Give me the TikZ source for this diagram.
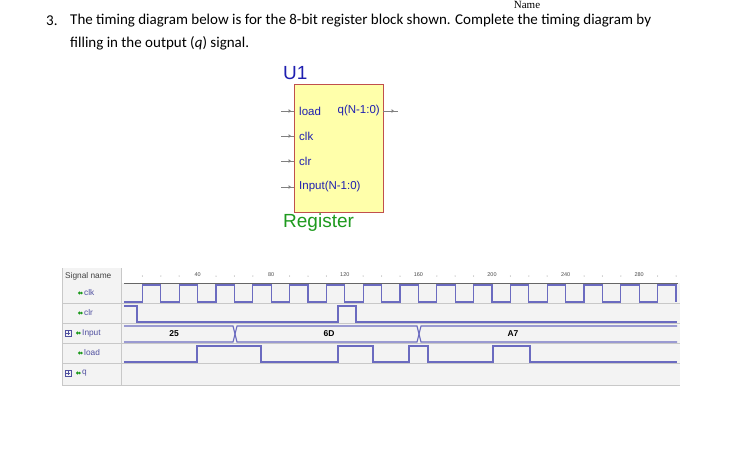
\documentclass[tikz,border=0pt]{standalone}
\usepackage{fontspec}
\usetikzlibrary{arrows.meta}
\setmainfont{Carlito}
\newfontfamily\arialf{Liberation Sans}
\newfontfamily\timesf{Liberation Serif}
\definecolor{wave}{HTML}{6B6BC0}
\definecolor{pblue}{HTML}{1F1FB0}
\definecolor{rgreen}{HTML}{1E9A1E}
\definecolor{boxfill}{HTML}{FFFFAA}
\definecolor{boxedge}{HTML}{C0504D}
\definecolor{panel}{HTML}{F3F3F3}
\definecolor{sep}{HTML}{C8C8C8}
\definecolor{lblue}{HTML}{5050A0}
\begin{document}
\begin{tikzpicture}[x=1pt,y=-1pt,
  wv/.style={draw=wave,line width=1.1pt},
  pin/.style={draw=gray,line width=0.7pt},
  pintxt/.style={font=\arialf\fontsize{11.5}{12}\selectfont,text=pblue,anchor=west,inner sep=0pt},
  sname/.style={font=\arialf\fontsize{8.3}{9}\selectfont,text=lblue,anchor=west,inner sep=0pt},
  tick/.style={font=\arialf\fontsize{5.5}{5.5}\selectfont,text=black!70,inner sep=0pt},
  val/.style={font=\arialf\bfseries\fontsize{8.5}{8.5}\selectfont,inner sep=0pt}]
\useasboundingbox (0,0) rectangle (736,472);
\fill[white] (0,0) rectangle (736,472);
% header
\node[font=\timesf\fontsize{11}{11}\selectfont,inner sep=0pt] (nm) at (527,5) {Name};
\node[anchor=west,inner sep=0pt,font=\fontsize{15}{15}\selectfont] (n3) at (46,21) {3.};
\node[anchor=west,inner sep=0pt,font=\fontsize{15}{15}\selectfont] (l1) at (70,21) {The timing diagram below is for the 8-bit register block shown. Complete the timing diagram by};
\node[anchor=west,inner sep=0pt,font=\fontsize{15}{15}\selectfont] (l2) at (70,43) {filling in the output (\textit{q}) signal.};
% register block
\node[anchor=west,inner sep=0pt,font=\arialf\fontsize{19}{19}\selectfont,text=pblue] (u1) at (283,73) {U1};
\node[draw=boxedge,fill=boxfill,line width=0.8pt,minimum width=89pt,minimum height=128pt,anchor=north west,inner sep=0pt] (blk) at (294,84) {};
\node[anchor=west,inner sep=0pt,font=\arialf\fontsize{19}{19}\selectfont,text=rgreen] (reg) at (283,223) {Register};
\foreach \n/\t/\y in {pl/load/111,pc/clk/136,pr/clr/161,pi/Input(N-1:0)/187}{
  \coordinate (\n a) at (281,\y);
  \coordinate (\n b) at (294,\y);
  \draw[pin] (\n a) -- (\n b);
  \fill[gray] (288.5,\y-2) -- (288.5,\y+2) -- (291,\y) -- cycle;
  \node[pintxt] (\n t) at (299,\y) {\t};
}
\node[pintxt,anchor=east] (pqt) at (380,111) {q(N-1:0)};
\coordinate (pqa) at (383,111); \coordinate (pqb) at (398,111);
\draw[pin] (pqa) -- (pqb);
\fill[gray] (391.5,109) -- (391.5,113) -- (394,111) -- cycle;
% timing panel
\fill[panel] (62,268) rectangle (680,386);
\fill[white] (122,268) rectangle (680,283);
\draw[sep] (62,268) -- (62,386);
\draw[sep] (121,268) -- (121,386);
\foreach \y in {303,323,343,363,385}{\draw[sep,line width=0.8pt] (62,\y) -- (680,\y);}
\draw[black!60,line width=0.8pt] (124,283.5) -- (678,283.5);
\node[sname,text=black!75] (sn) at (65,276) {Signal name};
\foreach \n/\t/\y/\x in {sc/clk/293/84,sr/clr/313/84,si/Input/333/82,sl/load/353/84,sq/q/373/82}{
  \node[sname] (\n) at (\x,\y) {\t};
  \fill[rgreen] (\x-4.5,\y) circle (1.7pt);
  \fill[rgreen] (\x-3,\y-1.5) -- (\x-3,\y+1.5) -- (\x-1,\y) -- cycle;
}
\foreach \n/\y in {bi/333,bq/373}{
  \node[draw=lblue,line width=0.5pt,minimum size=6.5pt,inner sep=0pt] (\n) at (68,\y) {};
  \draw[lblue,line width=0.5pt] (66,\y) -- (70,\y) (68,\y-2) -- (68,\y+2);
}
\foreach \k in {1,...,30}{\fill[black!50] (124+\k*1.84*10,276) circle (0.5pt);}
\foreach \v in {40,80,...,280}{\node[tick,fill=white] (t\v) at (124+\v*1.84,275) {\v};}
% clk
\draw[wv] (124,302) \foreach \k in {0,...,14}{ -- ({124+(\k*20+10)*1.84},302) -- ({124+(\k*20+10)*1.84},285) -- ({124+(\k*20+20)*1.84},285) -- ({124+(\k*20+20)*1.84},302)};
% clr
\draw[wv] (124,306) -- (137,306) -- (137,322) -- (338,322) -- (338,306) -- (356,306) -- (356,322) -- (677,322);
% input bus
\draw[wv] (124,326) -- (233,326) -- (237,342) -- (417,342) -- (421,326) -- (677,326);
\draw[wv] (124,342) -- (233,342) -- (237,326) -- (417,326) -- (421,342) -- (677,342);
\node[val] (v1) at (174,334) {25};
\node[val] (v2) at (329,334) {6D};
\node[val] (v3) at (513,334) {A7};
% load
\draw[wv] (124,362) -- (197,362) -- (197,346) -- (261,346) -- (261,362) -- (338,362) -- (338,346) -- (373,346) -- (373,362) -- (409,362) -- (409,346) -- (428,346) -- (428,362) -- (493,362) -- (493,346) -- (530,346) -- (530,362) -- (677,362);
\end{tikzpicture}
\end{document}
